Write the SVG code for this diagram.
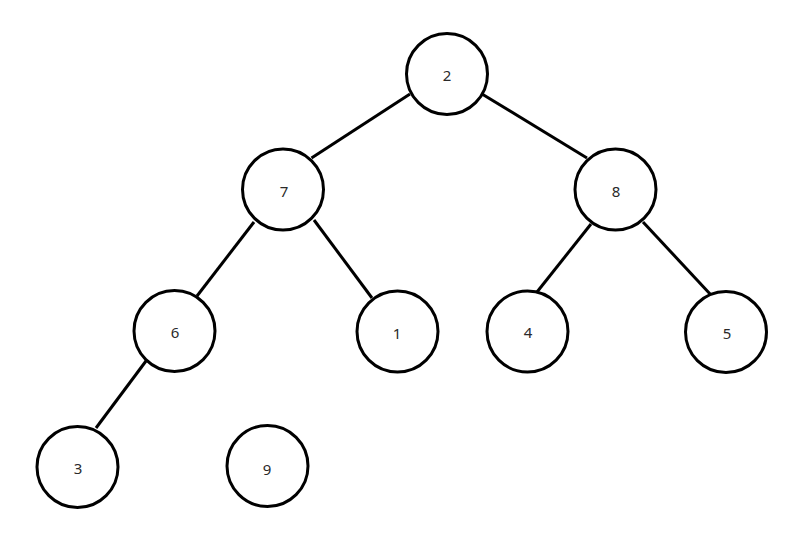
<svg xmlns="http://www.w3.org/2000/svg" width="807" height="544" viewBox="0 0 807 544">
<style>
.n circle{fill:#fff;stroke:#000;stroke-width:3}
.n text{font-family:"Noto Sans","Open Sans",sans-serif;font-size:15px;fill:#2a2a2a;text-anchor:middle;dominant-baseline:central}
#edges line{stroke:#000;stroke-width:3;stroke-linecap:butt}
</style>
<rect width="807" height="544" fill="#fff"/>
<g id="edges">
<line x1="410" y1="94" x2="311.5" y2="158"/>
<line x1="482" y1="94" x2="587" y2="158"/>
<line x1="254" y1="222" x2="197" y2="296"/>
<line x1="314" y1="220" x2="372" y2="298"/>
<line x1="591" y1="224" x2="537" y2="292"/>
<line x1="643" y1="222" x2="711" y2="295"/>
<line x1="146" y1="361" x2="96" y2="428"/>
</g>
<g id="node2" class="n"><circle cx="447" cy="74" r="40.5"/><text x="447" y="75">2</text></g>
<g id="node7" class="n"><circle cx="283" cy="189.5" r="40.5"/><text x="284" y="191">7</text></g>
<g id="node8" class="n"><circle cx="615.5" cy="189.5" r="40.5"/><text x="616" y="191">8</text></g>
<g id="node6" class="n"><circle cx="174.5" cy="331" r="40.5"/><text x="175" y="332">6</text></g>
<g id="node1" class="n"><circle cx="397.5" cy="331.5" r="40.5"/><text x="397" y="333">1</text></g>
<g id="node4" class="n"><circle cx="527.5" cy="331.5" r="40.5"/><text x="528" y="332">4</text></g>
<g id="node5" class="n"><circle cx="726" cy="332" r="40.5"/><text x="727" y="333">5</text></g>
<g id="node3" class="n"><circle cx="77.5" cy="467" r="40.5"/><text x="78" y="468">3</text></g>
<g id="node9" class="n"><circle cx="267.5" cy="466" r="40.5"/><text x="267" y="469">9</text></g>
</svg>
